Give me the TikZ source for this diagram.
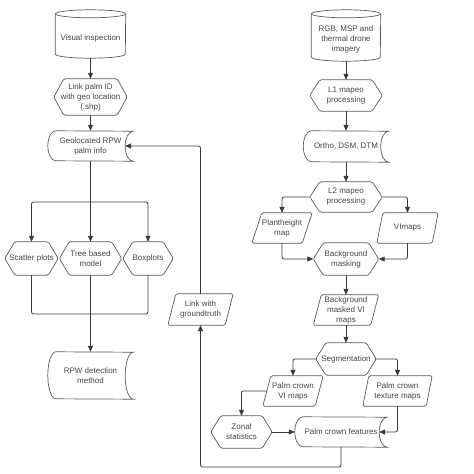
\documentclass[tikz,border=0pt]{standalone}
\usepackage{fontspec}
\setmainfont{Liberation Sans}
\usetikzlibrary{arrows.meta}
\definecolor{txtc}{HTML}{454545}
\definecolor{shpc}{HTML}{5A5A5A}
\definecolor{linec}{HTML}{3A3A3A}
\tikzset{
  box/.style={draw=none,inner sep=0pt,align=center,text=txtc,font=\fontsize{8}{10}\selectfont},
  shp/.style={draw=shpc,line width=0.7pt,fill=white},
  rshp/.style={shp,rounded corners=1.5pt},
  ln/.style={draw=linec,line width=0.8pt,rounded corners=2pt},
  arr/.style={ln,-{Triangle[length=6pt,width=5pt]}}
}
% hexagon: name cx cy w h text
\newcommand\hexa[6]{%
  \node[box,minimum width=#4pt,minimum height=#5pt] (#1) at (#2,#3) {};
  \draw[rshp] (#1.west) -- ([xshift=10pt]#1.north west) -- ([xshift=-10pt]#1.north east) -- (#1.east) -- ([xshift=-10pt]#1.south east) -- ([xshift=10pt]#1.south west) -- cycle;
  \node[box] (#1-t) at (#1.center) {#6};}
% parallelogram: name cx cy w h skew text
\newcommand\para[7]{%
  \node[box,minimum width=#4pt,minimum height=#5pt] (#1) at (#2,#3) {};
  \draw[rshp] ([xshift=#6pt]#1.north west) -- (#1.north east) -- ([xshift=-#6pt]#1.south east) -- (#1.south west) -- cycle;
  \node[box] (#1-t) at (#1.center) {#7};}
% stored data: name cx cy w h text
\newcommand\stored[6]{%
  \node[box,minimum width=#4pt,minimum height=#5pt] (#1) at (#2,#3) {};
  \draw[shp] ([xshift=8pt]#1.north west) arc[start angle=270,end angle=90,x radius=8,y radius=#5/2] -- (#1.south east) arc[start angle=90,end angle=270,x radius=8,y radius=#5/2] -- cycle;
  \coordinate (#1-in) at ([xshift=-8pt]#1.east);
  \node[box] (#1-t) at (#1.center) {#6};}
% cylinder: name cx cy w h text
\newcommand\cyl[6]{%
  \node[box,minimum width=#4pt,minimum height=#5pt] (#1) at (#2,#3) {};
  \draw[shp] ([yshift=-4pt]#1.north west) -- ([yshift=4pt]#1.south west) arc[start angle=180,end angle=0,x radius=#4/2,y radius=4] -- ([yshift=-4pt]#1.north east);
  \draw[shp] ([yshift=-4pt]#1.north) ellipse [x radius=#4/2,y radius=4];
  \node[box] (#1-t) at ([yshift=-4pt]#1.center) {#6};}
\begin{document}
\begin{tikzpicture}[x=1pt,y=-1pt]
\fill[white] (0,0) rectangle (474,474);
\useasboundingbox (0,0) rectangle (474,474);
% left column
\cyl{vi}{90.5}{34}{70}{48}{Visual inspection}
\hexa{lp}{90.5}{97}{73}{36}{Link palm ID\\with geo location\\(.shp)}
\stored{geo}{90.5}{146}{85}{30}{Geolocated RPW\\palm info}
\hexa{scat}{31.5}{258.5}{53}{33}{Scatter plots}
\hexa{tree}{90.5}{258.5}{62}{33}{Tree based\\model}
\hexa{boxp}{148}{258.5}{50}{33}{Boxplots}
\stored{rpw}{90.5}{375.5}{85}{47}{RPW detection\\method}
\para{lg}{200.5}{309.5}{65}{31}{8}{Link with\\groundtruth}
% right column
\cyl{rgb}{346}{35.5}{69}{51}{RGB, MSP and\\thermal drone\\imagery}
\hexa{lone}{346}{95.5}{72}{31}{L1 mapeo\\processing}
\stored{ortho}{346}{146.5}{85}{31}{Ortho, DSM, DTM}
\hexa{ltwo}{346}{197}{72}{30}{L2 mapeo\\processing}
\para{ph}{282}{228}{60}{30}{10}{Plantheight\\map}
\para{vim}{407.5}{228}{61}{30}{6}{VImaps}
\hexa{bm}{346}{259}{65}{32}{Background\\masking}
\para{bmv}{346}{310}{65}{30}{8}{Background\\masked VI\\maps}
\hexa{seg}{346}{359}{60}{32}{Segmentation}
\para{pcv}{293}{391}{60}{30}{8}{Palm crown\\VI maps}
\para{pct}{397.5}{391}{69}{30}{6}{Palm crown\\texture maps}
\hexa{zs}{241.5}{432}{61}{32}{Zonal\\statistics}
\stored{pcf}{341}{432}{92}{30}{Palm crown features}
% connectors left
\draw[arr] (vi.south) -- (lp.north);
\draw[arr] (lp.south) -- (geo.north);
\coordinate (sp) at (90.5,202);
\draw[arr] (geo.south) -- (tree.north);
\draw[arr] (sp) -| (scat.north);
\draw[arr] (sp) -| (boxp.north);
\coordinate (jn) at (90.5,314);
\draw[ln] (scat.south) |- (jn) -| (boxp.south);
\draw[arr] (tree.south) -- (rpw.north);
% connectors right
\draw[arr] (rgb.south) -- (lone.north);
\draw[arr] (lone.south) -- (ortho.north);
\draw[arr] (ortho.south) -- (ltwo.north);
\draw[arr] (ltwo.west) -| (ph.north);
\draw[arr] (ltwo.east) -| (vim.north);
\draw[arr] (ph.south) |- (bm.west);
\draw[arr] (vim.south) |- (bm.east);
\draw[arr] (bm.south) -- (bmv.north);
\draw[arr] (bmv.south) -- (seg.north);
\draw[arr] (seg.west) -| (pcv.north);
\draw[arr] (seg.east) -| (pct.north);
\draw[arr] ([xshift=4pt]pcv.west) -| (zs.north);
\draw[arr] (zs.east) -- (pcf.west);
\draw[arr] (pct.south) |- (pcf-in);
\coordinate (lgb) at (200.5,467);
\draw[arr] (pcf.south) |- (lgb) -- (lg.south);
\draw[arr] (lg.north) |- (geo-in);
\end{tikzpicture}
\end{document}
